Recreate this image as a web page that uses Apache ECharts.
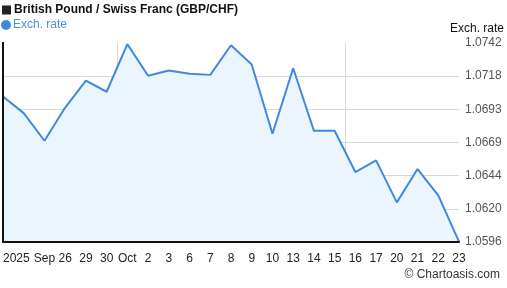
<!DOCTYPE html>
<html><head><meta charset="utf-8">
<script src="https://cdn.jsdelivr.net/npm/echarts@6/dist/echarts.min.js"></script>
<style>html,body{margin:0;padding:0;background:#fff}#c{width:507px;height:288px}</style>
</head><body><div id="c"></div>
<script>
const categories = ['2025-09-23','2025-09-24','2025-09-25','2025-09-26','2025-09-29','2025-09-30','2025-10-01','2025-10-02','2025-10-03','2025-10-06','2025-10-07','2025-10-08','2025-10-09','2025-10-10','2025-10-13','2025-10-14','2025-10-15','2025-10-16','2025-10-17','2025-10-20','2025-10-21','2025-10-22','2025-10-23'];
const xLabels = ['2025','','Sep','26','29','30','Oct','2','3','6','7','8','9','10','13','14','15','16','17','20','21','22','23'];
const rates = [1.07026,1.06904,1.06701,1.06945,1.07143,1.07061,1.07411,1.07178,1.07217,1.07193,1.07185,1.07403,1.07261,1.06752,1.07234,1.06774,1.06774,1.06471,1.06557,1.06248,1.06493,1.06300,1.05960];
const yTickLabels = ['1.0596','1.0620','1.0644','1.0669','1.0693','1.0718','1.0742'];
const yMin = 1.05957, yStep = 0.002437;
const periodBreaks = [5.5, 16.5];

const font = 'Liberation Sans, Arial, sans-serif';
const chart = echarts.init(document.getElementById('c'));
chart.setOption({
  animation: false,
  title: [
    {text: '{sq|}{t|British Pound / Swiss Franc (GBP/CHF)}', left: 2, top: 4, padding: 0,
     textStyle: {rich: {sq: {backgroundColor: '#222', width: 9, height: 9}, t: {fontFamily: font, fontSize: 12, fontWeight: 'bold', color: '#111', padding: [0,0,0,3]}}}},
    {text: 'Exch. rate', right: 3, top: 23, padding: 0, textStyle: {fontFamily: font, fontSize: 12, fontWeight: 'normal', color: '#111'}},
    {text: '© Chartoasis.com', right: 7, top: 269, padding: 0, textStyle: {fontFamily: font, fontSize: 12, fontWeight: 'normal', color: '#333'}}
  ],
  legend: {data: ['Exch. rate'], left: 1, top: 19, padding: 0, itemWidth: 10, itemHeight: 10, itemGap: 2, icon: 'circle',
    textStyle: {fontFamily: font, fontSize: 12, color: '#4a90e2', padding: [0,0,0,-3]}},
  grid: {left: 1, right: 48, top: 43, bottom: 46, containLabel: false},
  xAxis: [
    {type: 'category', data: categories, boundaryGap: false, z: 10,
     axisLine: {lineStyle: {color: '#111', width: 2}}, axisTick: {show: false},
     axisLabel: {fontFamily: font, fontSize: 12, color: '#222', margin: 11, interval: 0, alignMinLabel: 'left',
       formatter: (v, i) => xLabels[i]},
     splitLine: {show: false}},
    {type: 'value', min: 0, max: categories.length - 1, show: false}
  ],
  yAxis: [
    {type: 'value', position: 'right', min: yMin, max: yMin + 6 * yStep, interval: yStep, z: 0,
     axisLine: {show: true, lineStyle: {color: '#111', width: 2}}, axisTick: {show: false},
     axisLabel: {fontFamily: font, fontSize: 12, color: '#555', margin: 6,
       formatter: v => yTickLabels[Math.round((v - yMin) / yStep)]},
     splitLine: {show: true, showMaxLine: false, lineStyle: {color: '#d8d8d8', width: 1}}},
    {type: 'value', position: 'left', min: yMin, max: yMin + 6 * yStep, interval: yStep, z: 10,
     axisLine: {show: true, lineStyle: {color: '#111', width: 2}}, axisTick: {show: false}, axisLabel: {show: false}, splitLine: {show: false}}
  ],
  series: [
    {name: 'Exch. rate', type: 'line', data: rates, xAxisIndex: 0, yAxisIndex: 0, symbol: 'none',
     lineStyle: {color: '#3f8ae0', width: 2}, itemStyle: {color: '#3f8ae0'},
     areaStyle: {color: '#ebf5fe', opacity: 1}, z: 5},
    {name: 'breaks', type: 'line', data: [], xAxisIndex: 1, yAxisIndex: 0, symbol: 'none', silent: true, z: 1,
     markLine: {silent: true, symbol: 'none', label: {show: false}, lineStyle: {color: '#d8d8d8', width: 1, type: 'solid'},
       data: periodBreaks.map(b => ({xAxis: b}))}}
  ]
});
</script></body></html>
